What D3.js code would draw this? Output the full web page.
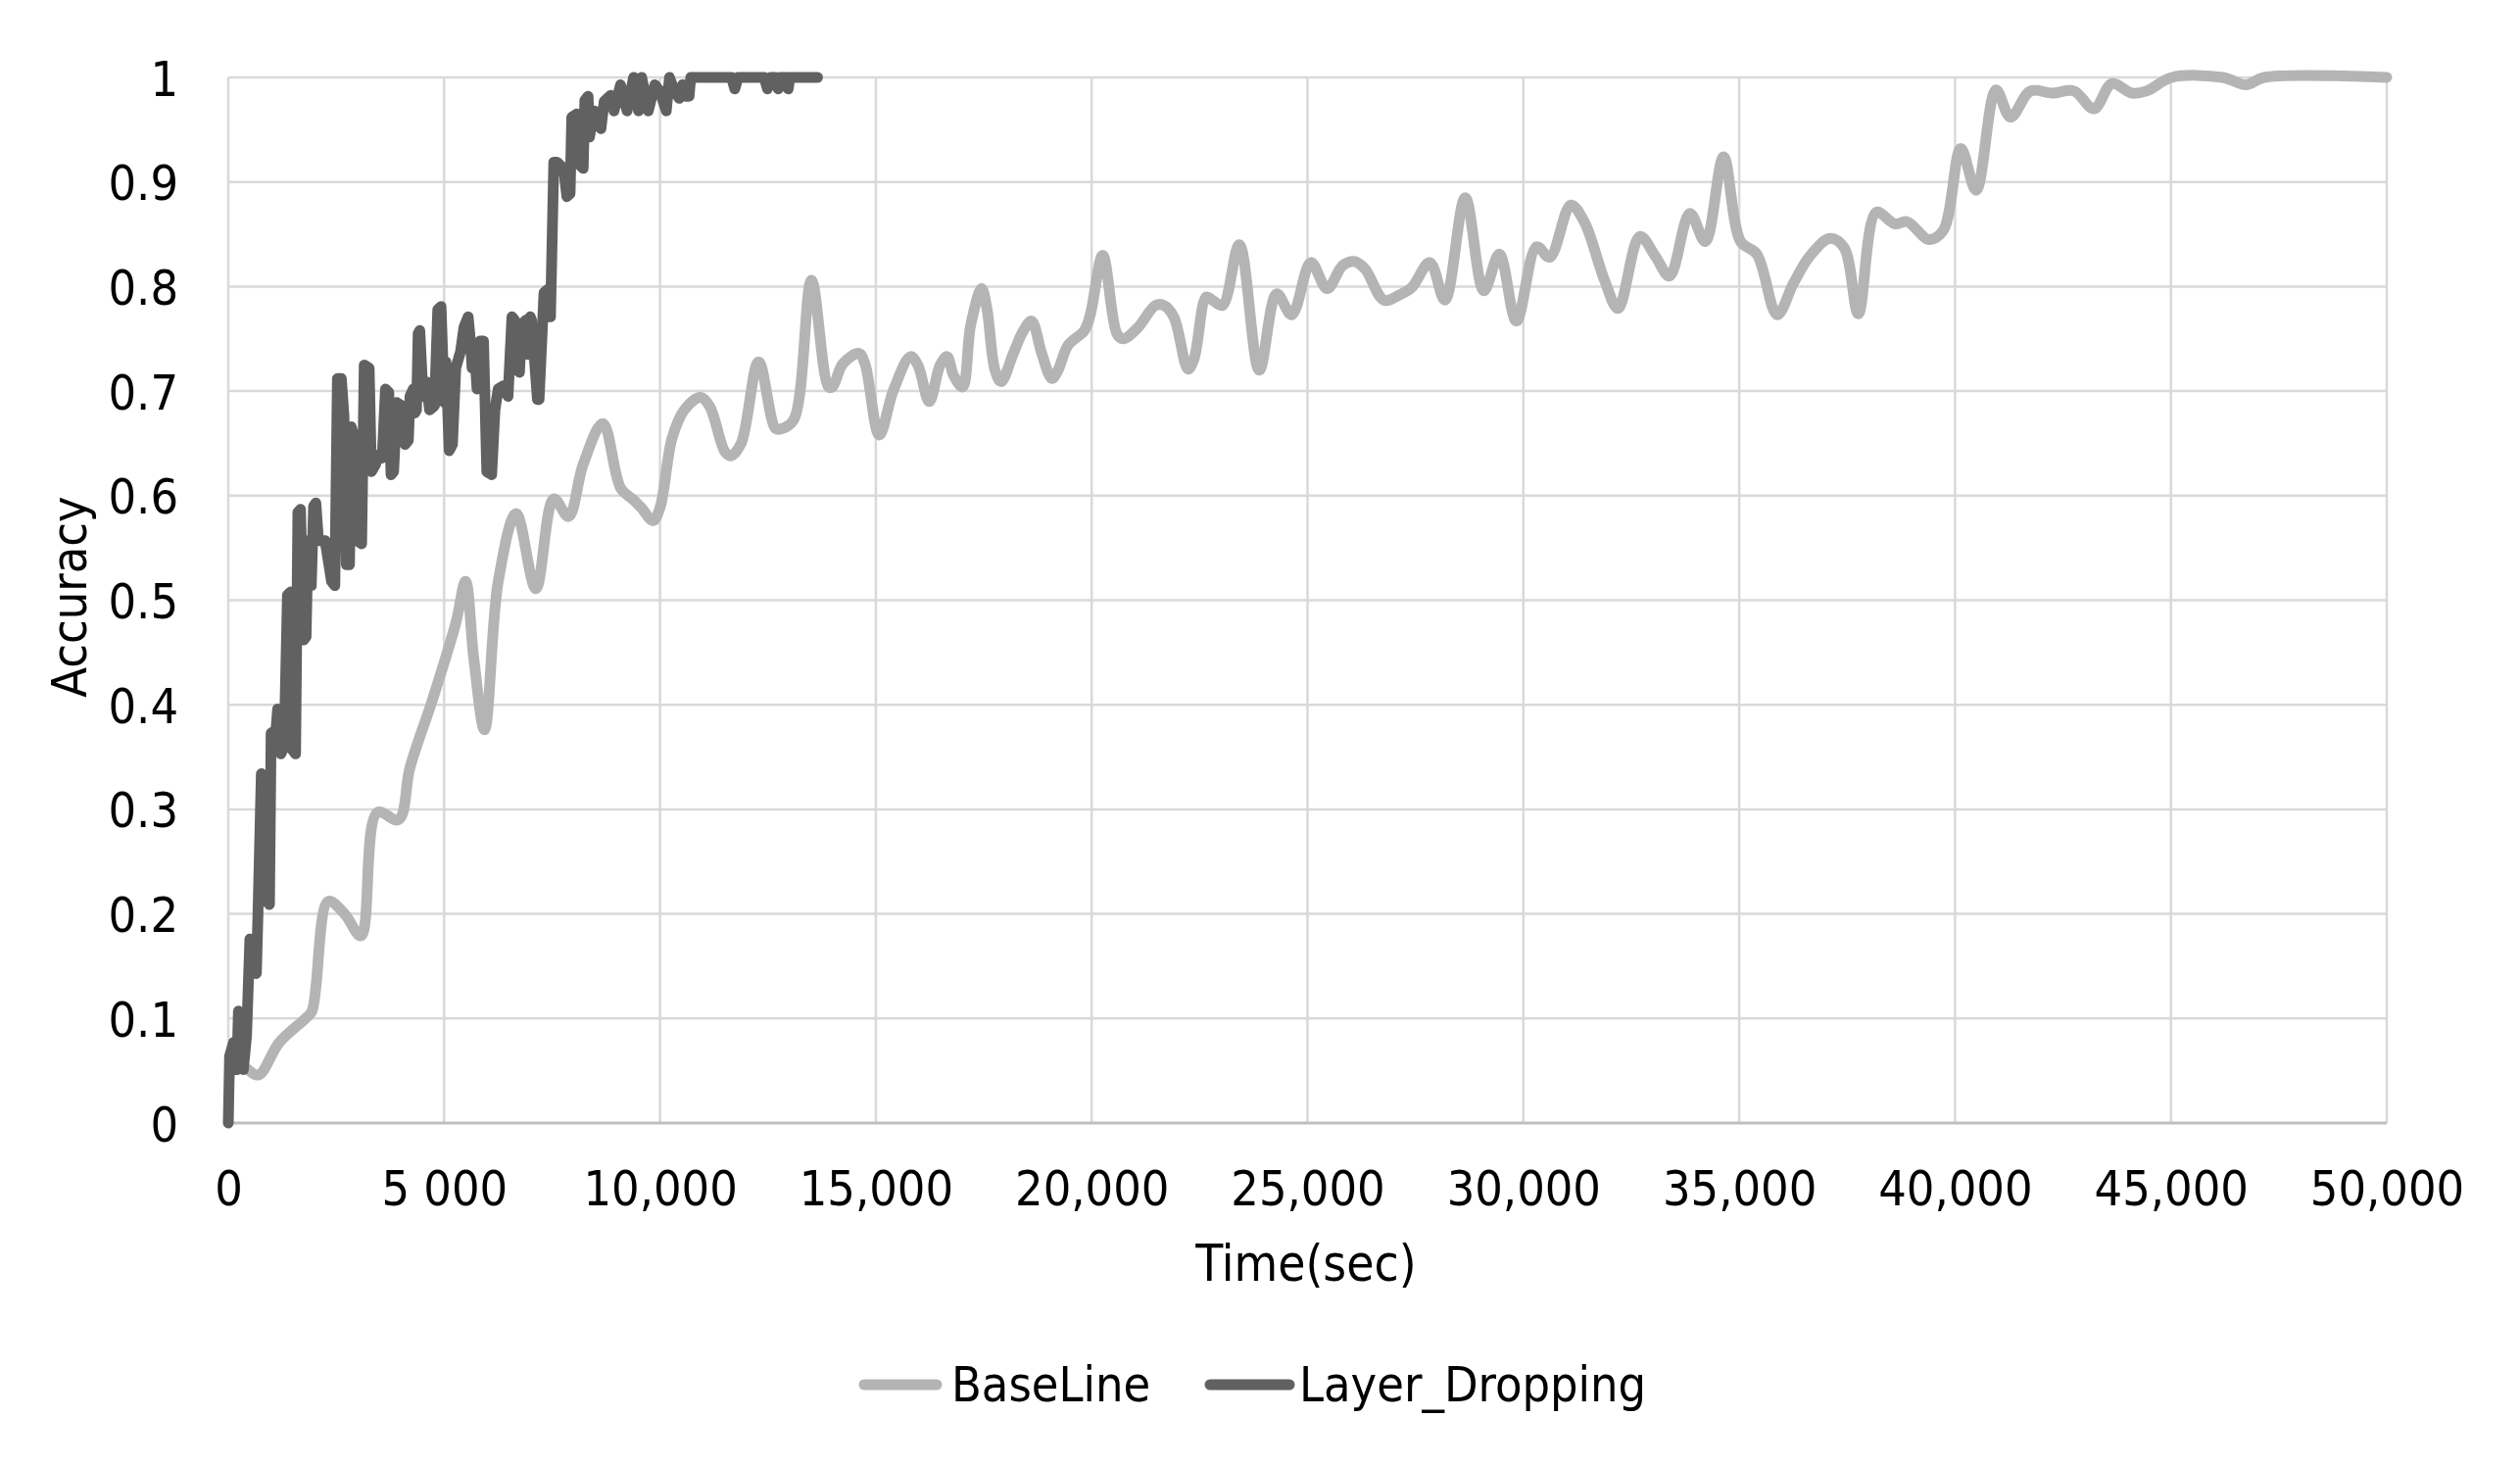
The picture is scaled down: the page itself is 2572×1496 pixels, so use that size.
<!DOCTYPE html>
<html>
<head>
<meta charset="utf-8">
<script src="https://cdn.jsdelivr.net/npm/d3@7/dist/d3.min.js"></script>
<style>
  html, body { margin: 0; padding: 0; background: #ffffff; }
  svg text { font-family: "DejaVu Sans Condensed", "DejaVu Sans", sans-serif; font-stretch: condensed; fill: #000; }
</style>
</head>
<body>
<svg id="chart" width="2572" height="1496"></svg>
<script>
// ---------- DATA ----------
const xTickValues = [0, 5000, 10000, 15000, 20000, 25000, 30000, 35000, 40000, 45000, 50000];
const xTickLabels = ["0", "5 000", "10,000", "15,000", "20,000", "25,000", "30,000", "35,000", "40,000", "45,000", "50,000"];
const yTickValues = [0, 0.1, 0.2, 0.3, 0.4, 0.5, 0.6, 0.7, 0.8, 0.9, 1];
const yTickLabels = ["0", "0.1", "0.2", "0.3", "0.4", "0.5", "0.6", "0.7", "0.8", "0.9", "1"];
const seriesNames = ["BaseLine", "Layer_Dropping"];

const baselineTime = [120, 424, 700, 1181, 1787, 1938, 2316, 2695, 3073, 3452, 3944, 4209, 4739, 5269, 5496, 5685, 5935, 6253, 6669, 7123, 7540, 7880, 8221, 8675, 9092, 9386, 9575, 9838, 9998, 10280, 10563, 10939, 11156, 11504, 11645, 11880, 12285, 12680, 12821, 13103, 13508, 13903, 13997, 14233, 14609, 14750, 15079, 15409, 15804, 15973, 16237, 16491, 16651, 16801, 17009, 17197, 17451, 17573, 17761, 17903, 18185, 18420, 18608, 18843, 19079, 19220, 19455, 19832, 19973, 20255, 20584, 20725, 21055, 21478, 21666, 21902, 22231, 22372, 22655, 22796, 23031, 23420, 23882, 24286, 24635, 25077, 25453, 25811, 26074, 26329, 26771, 27129, 27411, 27834, 28182, 28653, 29085, 29443, 29838, 30309, 30610, 31099, 31410, 31880, 32191, 32699, 33057, 33386, 33857, 34214, 34637, 35033, 35409, 35880, 36256, 36632, 37103, 37432, 37758, 38178, 38598, 38891, 39395, 39731, 40134, 40487, 40949, 41285, 41746, 42250, 42754, 43216, 43636, 44098, 44434, 45021, 46197, 46743, 47162, 50000];
const baselineAcc = [0.062, 0.052, 0.046, 0.077, 0.100, 0.107, 0.212, 0.200, 0.179, 0.297, 0.290, 0.340, 0.406, 0.478, 0.518, 0.445, 0.376, 0.518, 0.583, 0.511, 0.597, 0.580, 0.630, 0.669, 0.607, 0.596, 0.588, 0.576, 0.588, 0.655, 0.682, 0.694, 0.685, 0.642, 0.638, 0.650, 0.728, 0.664, 0.664, 0.673, 0.806, 0.704, 0.704, 0.726, 0.736, 0.726, 0.658, 0.701, 0.733, 0.725, 0.690, 0.725, 0.733, 0.715, 0.704, 0.763, 0.798, 0.779, 0.720, 0.709, 0.736, 0.758, 0.767, 0.736, 0.712, 0.720, 0.744, 0.758, 0.774, 0.830, 0.755, 0.750, 0.760, 0.782, 0.782, 0.771, 0.721, 0.731, 0.790, 0.787, 0.782, 0.840, 0.720, 0.793, 0.773, 0.823, 0.798, 0.820, 0.824, 0.817, 0.787, 0.792, 0.799, 0.823, 0.787, 0.885, 0.796, 0.831, 0.767, 0.838, 0.828, 0.878, 0.862, 0.806, 0.779, 0.848, 0.829, 0.810, 0.870, 0.843, 0.924, 0.843, 0.831, 0.773, 0.803, 0.829, 0.846, 0.837, 0.774, 0.871, 0.860, 0.862, 0.845, 0.854, 0.932, 0.892, 0.988, 0.962, 0.987, 0.985, 0.987, 0.970, 0.994, 0.985, 0.987, 1.000, 1.000, 0.993, 1.000, 1.000];

const layerTime = [0, 30, 121, 197, 235, 310, 348, 424, 500, 575, 651, 689, 765, 802, 840, 954, 992, 1105, 1143, 1196, 1219, 1294, 1370, 1446, 1484, 1559, 1612, 1673, 1749, 1802, 1847, 1923, 1976, 2029, 2089, 2241, 2392, 2468, 2528, 2619, 2680, 2733, 2808, 2846, 2922, 2983, 3089, 3149, 3263, 3316, 3414, 3452, 3565, 3641, 3717, 3770, 3830, 3906, 4020, 4095, 4171, 4209, 4285, 4322, 4360, 4398, 4436, 4512, 4587, 4663, 4777, 4852, 4928, 5004, 5042, 5117, 5193, 5269, 5382, 5458, 5556, 5609, 5647, 5723, 5761, 5836, 5912, 5988, 6101, 6177, 6253, 6366, 6480, 6571, 6631, 6669, 6745, 6798, 6896, 6949, 6995, 7025, 7161, 7199, 7313, 7388, 7426, 7464, 7540, 7615, 7691, 7767, 7843, 7918, 7956, 8070, 8145, 8221, 8259, 8335, 8367, 8480, 8632, 8707, 8859, 8934, 9086, 9237, 9388, 9502, 9577, 9729, 9880, 9993, 10145, 10220, 10334, 10447, 10523, 10599, 10674, 10712, 11657, 11733, 11809, 12414, 12490, 12565, 12680, 12739, 12792, 12933, 12970, 13008, 13650];
const layerAcc = [0, 0.064, 0.077, 0.051, 0.107, 0.103, 0.051, 0.084, 0.176, 0.149, 0.143, 0.202, 0.334, 0.327, 0.215, 0.209, 0.373, 0.376, 0.396, 0.360, 0.353, 0.360, 0.505, 0.508, 0.357, 0.353, 0.584, 0.587, 0.462, 0.465, 0.557, 0.514, 0.590, 0.593, 0.557, 0.557, 0.518, 0.514, 0.712, 0.712, 0.676, 0.534, 0.534, 0.666, 0.656, 0.557, 0.554, 0.725, 0.722, 0.623, 0.630, 0.639, 0.636, 0.702, 0.699, 0.620, 0.623, 0.689, 0.686, 0.649, 0.653, 0.695, 0.702, 0.679, 0.682, 0.755, 0.758, 0.695, 0.709, 0.682, 0.686, 0.778, 0.781, 0.689, 0.728, 0.643, 0.649, 0.722, 0.738, 0.761, 0.771, 0.748, 0.722, 0.728, 0.702, 0.748, 0.748, 0.623, 0.620, 0.682, 0.702, 0.705, 0.695, 0.771, 0.768, 0.722, 0.718, 0.764, 0.768, 0.735, 0.771, 0.768, 0.692, 0.692, 0.794, 0.797, 0.771, 0.771, 0.919, 0.919, 0.916, 0.913, 0.886, 0.889, 0.962, 0.965, 0.916, 0.913, 0.978, 0.982, 0.943, 0.968, 0.951, 0.977, 0.983, 0.968, 0.993, 0.968, 1.000, 0.968, 1.000, 0.968, 0.993, 0.987, 0.968, 1.000, 0.987, 0.980, 0.993, 0.982, 0.982, 1.000, 1.000, 0.989, 1.000, 1.000, 0.989, 1.000, 1.000, 0.989, 1.000, 1.000, 0.989, 1.000, 1.000];

// ---------- LAYOUT ----------
const W = 2572, H = 1496;
const margin = { left: 233, right: 136, top: 79, bottom: 350 };
const plotW = W - margin.left - margin.right;
const plotH = H - margin.top - margin.bottom;
const FONT = '"DejaVu Sans Condensed", "DejaVu Sans", sans-serif';

const svg = d3.select("#chart");
const g = svg.append("g").attr("transform", `translate(${margin.left},${margin.top})`);

const x = d3.scaleLinear().domain([0, 50000]).range([0, plotW]);
const y = d3.scaleLinear().domain([0, 1]).range([plotH, 0]);

// gridlines
g.append("g").selectAll("line").data(yTickValues.filter(v => v > 0)).join("line")
  .attr("x1", 0).attr("x2", plotW)
  .attr("y1", d => y(d)).attr("y2", d => y(d))
  .attr("stroke", "#d9d9d9").attr("stroke-width", 2.5);
g.append("g").selectAll("line").data(xTickValues).join("line")
  .attr("x1", d => x(d)).attr("x2", d => x(d))
  .attr("y1", 0).attr("y2", plotH)
  .attr("stroke", "#d9d9d9").attr("stroke-width", 2.5);
// x axis baseline
g.append("line").attr("x1", 0).attr("x2", plotW).attr("y1", y(0)).attr("y2", y(0))
  .attr("stroke", "#bfbfbf").attr("stroke-width", 3);

// axes via d3 (labels only)
const xAxis = d3.axisBottom(x).tickValues(xTickValues)
  .tickFormat((d, i) => xTickLabels[i]).tickSize(0).tickPadding(0);
const xa = g.append("g").attr("transform", `translate(0,${plotH})`).call(xAxis);
xa.select(".domain").remove();
xa.selectAll("text").attr("font-size", 50).attr("dy", null).attr("y", 84)
  .attr("font-family", FONT).attr("fill", "#000");

const yAxis = d3.axisLeft(y).tickValues(yTickValues)
  .tickFormat((d, i) => yTickLabels[i]).tickSize(0).tickPadding(0);
const ya = g.append("g").call(yAxis);
ya.select(".domain").remove();
ya.selectAll("text").attr("font-size", 50).attr("x", -51).attr("dy", "0.36em")
  .attr("font-family", FONT).attr("fill", "#000");

// axis titles
svg.append("text").attr("x", 1333).attr("y", 1307)
  .attr("text-anchor", "middle").attr("font-size", 51).text("Time(sec)");
svg.append("text").attr("transform", `translate(88,609) rotate(-90)`)
  .attr("text-anchor", "middle").attr("font-size", 50).text("Accuracy");

// series
const baseline = baselineTime.map((t, i) => ({ t, v: baselineAcc[i] }));
const layer = layerTime.map((t, i) => ({ t, v: layerAcc[i] }));

const smooth = d3.line().x(d => x(d.t)).y(d => y(d.v)).curve(d3.curveCatmullRom.alpha(0.5));
const straight = d3.line().x(d => x(d.t)).y(d => y(d.v)).curve(d3.curveLinear);

const colors = { "BaseLine": "#b4b4b4", "Layer_Dropping": "#616161" };

g.append("path").datum(baseline).attr("d", smooth)
  .attr("fill", "none").attr("stroke", colors["BaseLine"]).attr("stroke-width", 11)
  .attr("stroke-linejoin", "round").attr("stroke-linecap", "round");
g.append("path").datum(layer).attr("d", straight)
  .attr("fill", "none").attr("stroke", colors["Layer_Dropping"]).attr("stroke-width", 11)
  .attr("stroke-linejoin", "round").attr("stroke-linecap", "round");

// legend
const legendItems = [
  { name: seriesNames[0], x1: 882, x2: 956, tx: 971 },
  { name: seriesNames[1], x1: 1235, x2: 1316, tx: 1326 }
];
const lg = svg.append("g");
legendItems.forEach(it => {
  lg.append("line").attr("x1", it.x1).attr("x2", it.x2).attr("y1", 1413).attr("y2", 1413)
    .attr("stroke", colors[it.name]).attr("stroke-width", 11).attr("stroke-linecap", "round");
  lg.append("text").attr("x", it.tx).attr("y", 1430).attr("font-size", 50).text(it.name);
});
</script>
</body>
</html>
